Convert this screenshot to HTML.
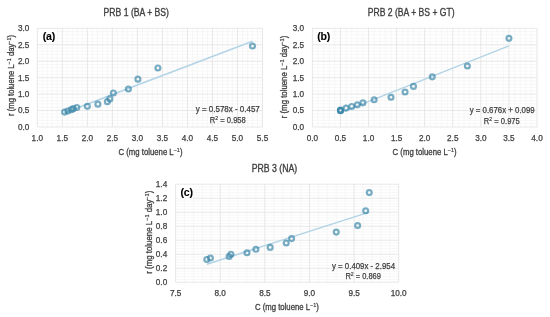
<!DOCTYPE html>
<html><head><meta charset="utf-8"><style>
html,body{margin:0;padding:0;background:#fff;}
body{width:550px;height:317px;overflow:hidden;}
svg{display:block;}
text{font-family:"Liberation Sans", sans-serif;fill:#404040;stroke:#404040;stroke-width:0.25px;}
.tk{font-size:8.2px;}
.ttl{font-size:10px;stroke-width:0.35px;}
.lab{font-size:10.6px;font-weight:bold;fill:#000;stroke:#000;stroke-width:0.1px;letter-spacing:-0.25px;}
.ax{font-size:8.5px;stroke-width:0.3px;}
.eq{font-size:8.8px;}
.sup{font-size:6px;stroke-width:0.2px;}
</style></head><body>
<svg width="550" height="317" viewBox="0 0 550 317">
<defs><filter id="bl" x="-5%" y="-5%" width="110%" height="110%"><feGaussianBlur stdDeviation="0.45"/></filter></defs>
<rect width="550" height="317" fill="#fff"/>
<g filter="url(#bl)">
<line x1="42.30" y1="28.3" x2="42.30" y2="127.0" stroke="#f5f5f5" stroke-width="0.8"/>
<line x1="47.31" y1="28.3" x2="47.31" y2="127.0" stroke="#f5f5f5" stroke-width="0.8"/>
<line x1="52.31" y1="28.3" x2="52.31" y2="127.0" stroke="#f5f5f5" stroke-width="0.8"/>
<line x1="57.32" y1="28.3" x2="57.32" y2="127.0" stroke="#f5f5f5" stroke-width="0.8"/>
<line x1="67.33" y1="28.3" x2="67.33" y2="127.0" stroke="#f5f5f5" stroke-width="0.8"/>
<line x1="72.33" y1="28.3" x2="72.33" y2="127.0" stroke="#f5f5f5" stroke-width="0.8"/>
<line x1="77.34" y1="28.3" x2="77.34" y2="127.0" stroke="#f5f5f5" stroke-width="0.8"/>
<line x1="82.34" y1="28.3" x2="82.34" y2="127.0" stroke="#f5f5f5" stroke-width="0.8"/>
<line x1="92.35" y1="28.3" x2="92.35" y2="127.0" stroke="#f5f5f5" stroke-width="0.8"/>
<line x1="97.35" y1="28.3" x2="97.35" y2="127.0" stroke="#f5f5f5" stroke-width="0.8"/>
<line x1="102.36" y1="28.3" x2="102.36" y2="127.0" stroke="#f5f5f5" stroke-width="0.8"/>
<line x1="107.36" y1="28.3" x2="107.36" y2="127.0" stroke="#f5f5f5" stroke-width="0.8"/>
<line x1="117.37" y1="28.3" x2="117.37" y2="127.0" stroke="#f5f5f5" stroke-width="0.8"/>
<line x1="122.38" y1="28.3" x2="122.38" y2="127.0" stroke="#f5f5f5" stroke-width="0.8"/>
<line x1="127.38" y1="28.3" x2="127.38" y2="127.0" stroke="#f5f5f5" stroke-width="0.8"/>
<line x1="132.38" y1="28.3" x2="132.38" y2="127.0" stroke="#f5f5f5" stroke-width="0.8"/>
<line x1="142.39" y1="28.3" x2="142.39" y2="127.0" stroke="#f5f5f5" stroke-width="0.8"/>
<line x1="147.40" y1="28.3" x2="147.40" y2="127.0" stroke="#f5f5f5" stroke-width="0.8"/>
<line x1="152.40" y1="28.3" x2="152.40" y2="127.0" stroke="#f5f5f5" stroke-width="0.8"/>
<line x1="157.41" y1="28.3" x2="157.41" y2="127.0" stroke="#f5f5f5" stroke-width="0.8"/>
<line x1="167.42" y1="28.3" x2="167.42" y2="127.0" stroke="#f5f5f5" stroke-width="0.8"/>
<line x1="172.42" y1="28.3" x2="172.42" y2="127.0" stroke="#f5f5f5" stroke-width="0.8"/>
<line x1="177.42" y1="28.3" x2="177.42" y2="127.0" stroke="#f5f5f5" stroke-width="0.8"/>
<line x1="182.43" y1="28.3" x2="182.43" y2="127.0" stroke="#f5f5f5" stroke-width="0.8"/>
<line x1="192.44" y1="28.3" x2="192.44" y2="127.0" stroke="#f5f5f5" stroke-width="0.8"/>
<line x1="197.44" y1="28.3" x2="197.44" y2="127.0" stroke="#f5f5f5" stroke-width="0.8"/>
<line x1="202.45" y1="28.3" x2="202.45" y2="127.0" stroke="#f5f5f5" stroke-width="0.8"/>
<line x1="207.45" y1="28.3" x2="207.45" y2="127.0" stroke="#f5f5f5" stroke-width="0.8"/>
<line x1="217.46" y1="28.3" x2="217.46" y2="127.0" stroke="#f5f5f5" stroke-width="0.8"/>
<line x1="222.46" y1="28.3" x2="222.46" y2="127.0" stroke="#f5f5f5" stroke-width="0.8"/>
<line x1="227.47" y1="28.3" x2="227.47" y2="127.0" stroke="#f5f5f5" stroke-width="0.8"/>
<line x1="232.47" y1="28.3" x2="232.47" y2="127.0" stroke="#f5f5f5" stroke-width="0.8"/>
<line x1="242.48" y1="28.3" x2="242.48" y2="127.0" stroke="#f5f5f5" stroke-width="0.8"/>
<line x1="247.49" y1="28.3" x2="247.49" y2="127.0" stroke="#f5f5f5" stroke-width="0.8"/>
<line x1="252.49" y1="28.3" x2="252.49" y2="127.0" stroke="#f5f5f5" stroke-width="0.8"/>
<line x1="257.50" y1="28.3" x2="257.50" y2="127.0" stroke="#f5f5f5" stroke-width="0.8"/>
<line x1="37.3" y1="31.59" x2="262.5" y2="31.59" stroke="#f5f5f5" stroke-width="0.8"/>
<line x1="37.3" y1="34.88" x2="262.5" y2="34.88" stroke="#f5f5f5" stroke-width="0.8"/>
<line x1="37.3" y1="38.17" x2="262.5" y2="38.17" stroke="#f5f5f5" stroke-width="0.8"/>
<line x1="37.3" y1="41.46" x2="262.5" y2="41.46" stroke="#f5f5f5" stroke-width="0.8"/>
<line x1="37.3" y1="48.04" x2="262.5" y2="48.04" stroke="#f5f5f5" stroke-width="0.8"/>
<line x1="37.3" y1="51.33" x2="262.5" y2="51.33" stroke="#f5f5f5" stroke-width="0.8"/>
<line x1="37.3" y1="54.62" x2="262.5" y2="54.62" stroke="#f5f5f5" stroke-width="0.8"/>
<line x1="37.3" y1="57.91" x2="262.5" y2="57.91" stroke="#f5f5f5" stroke-width="0.8"/>
<line x1="37.3" y1="64.49" x2="262.5" y2="64.49" stroke="#f5f5f5" stroke-width="0.8"/>
<line x1="37.3" y1="67.78" x2="262.5" y2="67.78" stroke="#f5f5f5" stroke-width="0.8"/>
<line x1="37.3" y1="71.07" x2="262.5" y2="71.07" stroke="#f5f5f5" stroke-width="0.8"/>
<line x1="37.3" y1="74.36" x2="262.5" y2="74.36" stroke="#f5f5f5" stroke-width="0.8"/>
<line x1="37.3" y1="80.94" x2="262.5" y2="80.94" stroke="#f5f5f5" stroke-width="0.8"/>
<line x1="37.3" y1="84.23" x2="262.5" y2="84.23" stroke="#f5f5f5" stroke-width="0.8"/>
<line x1="37.3" y1="87.52" x2="262.5" y2="87.52" stroke="#f5f5f5" stroke-width="0.8"/>
<line x1="37.3" y1="90.81" x2="262.5" y2="90.81" stroke="#f5f5f5" stroke-width="0.8"/>
<line x1="37.3" y1="97.39" x2="262.5" y2="97.39" stroke="#f5f5f5" stroke-width="0.8"/>
<line x1="37.3" y1="100.68" x2="262.5" y2="100.68" stroke="#f5f5f5" stroke-width="0.8"/>
<line x1="37.3" y1="103.97" x2="262.5" y2="103.97" stroke="#f5f5f5" stroke-width="0.8"/>
<line x1="37.3" y1="107.26" x2="262.5" y2="107.26" stroke="#f5f5f5" stroke-width="0.8"/>
<line x1="37.3" y1="113.84" x2="262.5" y2="113.84" stroke="#f5f5f5" stroke-width="0.8"/>
<line x1="37.3" y1="117.13" x2="262.5" y2="117.13" stroke="#f5f5f5" stroke-width="0.8"/>
<line x1="37.3" y1="120.42" x2="262.5" y2="120.42" stroke="#f5f5f5" stroke-width="0.8"/>
<line x1="37.3" y1="123.71" x2="262.5" y2="123.71" stroke="#f5f5f5" stroke-width="0.8"/>
<line x1="37.30" y1="28.3" x2="37.30" y2="127.0" stroke="#e4e4e4" stroke-width="0.9"/>
<line x1="62.32" y1="28.3" x2="62.32" y2="127.0" stroke="#e4e4e4" stroke-width="0.9"/>
<line x1="87.34" y1="28.3" x2="87.34" y2="127.0" stroke="#e4e4e4" stroke-width="0.9"/>
<line x1="112.37" y1="28.3" x2="112.37" y2="127.0" stroke="#e4e4e4" stroke-width="0.9"/>
<line x1="137.39" y1="28.3" x2="137.39" y2="127.0" stroke="#e4e4e4" stroke-width="0.9"/>
<line x1="162.41" y1="28.3" x2="162.41" y2="127.0" stroke="#e4e4e4" stroke-width="0.9"/>
<line x1="187.43" y1="28.3" x2="187.43" y2="127.0" stroke="#e4e4e4" stroke-width="0.9"/>
<line x1="212.46" y1="28.3" x2="212.46" y2="127.0" stroke="#e4e4e4" stroke-width="0.9"/>
<line x1="237.48" y1="28.3" x2="237.48" y2="127.0" stroke="#e4e4e4" stroke-width="0.9"/>
<line x1="262.50" y1="28.3" x2="262.50" y2="127.0" stroke="#e4e4e4" stroke-width="0.9"/>
<line x1="37.3" y1="28.30" x2="262.5" y2="28.30" stroke="#e4e4e4" stroke-width="0.9"/>
<line x1="37.3" y1="44.75" x2="262.5" y2="44.75" stroke="#e4e4e4" stroke-width="0.9"/>
<line x1="37.3" y1="61.20" x2="262.5" y2="61.20" stroke="#e4e4e4" stroke-width="0.9"/>
<line x1="37.3" y1="77.65" x2="262.5" y2="77.65" stroke="#e4e4e4" stroke-width="0.9"/>
<line x1="37.3" y1="94.10" x2="262.5" y2="94.10" stroke="#e4e4e4" stroke-width="0.9"/>
<line x1="37.3" y1="110.55" x2="262.5" y2="110.55" stroke="#e4e4e4" stroke-width="0.9"/>
<line x1="37.3" y1="127.00" x2="262.5" y2="127.00" stroke="#e4e4e4" stroke-width="0.9"/>
<text x="37.30" y="141.0" text-anchor="middle" class="tk">1.0</text>
<text x="62.32" y="141.0" text-anchor="middle" class="tk">1.5</text>
<text x="87.34" y="141.0" text-anchor="middle" class="tk">2.0</text>
<text x="112.37" y="141.0" text-anchor="middle" class="tk">2.5</text>
<text x="137.39" y="141.0" text-anchor="middle" class="tk">3.0</text>
<text x="162.41" y="141.0" text-anchor="middle" class="tk">3.5</text>
<text x="187.43" y="141.0" text-anchor="middle" class="tk">4.0</text>
<text x="212.46" y="141.0" text-anchor="middle" class="tk">4.5</text>
<text x="237.48" y="141.0" text-anchor="middle" class="tk">5.0</text>
<text x="262.50" y="141.0" text-anchor="middle" class="tk">5.5</text>
<text x="29.30" y="129.90" text-anchor="end" class="tk">0.0</text>
<text x="29.30" y="113.45" text-anchor="end" class="tk">0.5</text>
<text x="29.30" y="97.00" text-anchor="end" class="tk">1.0</text>
<text x="29.30" y="80.55" text-anchor="end" class="tk">1.5</text>
<text x="29.30" y="64.10" text-anchor="end" class="tk">2.0</text>
<text x="29.30" y="47.65" text-anchor="end" class="tk">2.5</text>
<text x="29.30" y="31.20" text-anchor="end" class="tk">3.0</text>
<line x1="64.57" y1="112.66" x2="252.49" y2="41.25" stroke="#b3d4e6" stroke-width="1.55"/>
<circle cx="64.57" cy="112.10" r="2.45" fill="none" stroke="#3a86a8" stroke-opacity="0.68" stroke-width="2.2"/>
<circle cx="67.83" cy="110.95" r="2.45" fill="none" stroke="#3a86a8" stroke-opacity="0.68" stroke-width="2.2"/>
<circle cx="71.33" cy="109.64" r="2.45" fill="none" stroke="#3a86a8" stroke-opacity="0.68" stroke-width="2.2"/>
<circle cx="73.33" cy="108.65" r="2.45" fill="none" stroke="#3a86a8" stroke-opacity="0.68" stroke-width="2.2"/>
<circle cx="76.84" cy="107.43" r="2.45" fill="none" stroke="#3a86a8" stroke-opacity="0.68" stroke-width="2.2"/>
<circle cx="87.34" cy="106.35" r="2.45" fill="none" stroke="#3a86a8" stroke-opacity="0.68" stroke-width="2.2"/>
<circle cx="97.85" cy="104.14" r="2.45" fill="none" stroke="#3a86a8" stroke-opacity="0.68" stroke-width="2.2"/>
<circle cx="107.36" cy="101.67" r="2.45" fill="none" stroke="#3a86a8" stroke-opacity="0.68" stroke-width="2.2"/>
<circle cx="109.86" cy="98.88" r="2.45" fill="none" stroke="#3a86a8" stroke-opacity="0.68" stroke-width="2.2"/>
<circle cx="113.37" cy="92.95" r="2.45" fill="none" stroke="#3a86a8" stroke-opacity="0.68" stroke-width="2.2"/>
<circle cx="128.38" cy="89.01" r="2.45" fill="none" stroke="#3a86a8" stroke-opacity="0.68" stroke-width="2.2"/>
<circle cx="137.89" cy="79.14" r="2.45" fill="none" stroke="#3a86a8" stroke-opacity="0.68" stroke-width="2.2"/>
<circle cx="157.91" cy="67.95" r="2.45" fill="none" stroke="#3a86a8" stroke-opacity="0.68" stroke-width="2.2"/>
<circle cx="252.49" cy="46.07" r="2.45" fill="none" stroke="#3a86a8" stroke-opacity="0.68" stroke-width="2.2"/>
<text x="136.3" y="15.9" text-anchor="middle" class="ttl" textLength="65.4" lengthAdjust="spacingAndGlyphs">PRB 1 (BA + BS)</text>
<rect x="38.5" y="30" width="18.50" height="13.80" fill="#fff"/>
<text x="42.8" y="40.0" class="lab">(a)</text>
<text x="150.5" y="154.6" text-anchor="middle" class="ax" textLength="64" lengthAdjust="spacingAndGlyphs">C (mg toluene L<tspan class="sup" dy="-3">−1</tspan><tspan dy="3">)</tspan></text>
<text transform="translate(14.3,75.5) rotate(-90)" text-anchor="middle" class="ax" textLength="81" lengthAdjust="spacingAndGlyphs">r (mg toluene L<tspan class="sup" dy="-3">−1</tspan><tspan dy="3"> day</tspan><tspan class="sup" dy="-3">−1</tspan><tspan dy="3">)</tspan></text>
<text x="259.8" y="112.2" text-anchor="end" class="eq" textLength="64" lengthAdjust="spacingAndGlyphs">y = 0.578x - 0.457</text>
<text x="227.8" y="123.1" text-anchor="middle" class="eq" textLength="36" lengthAdjust="spacingAndGlyphs">R<tspan class="sup" dy="-3">2</tspan><tspan dy="3"> = 0.958</tspan></text>
<line x1="318.01" y1="28.3" x2="318.01" y2="127.0" stroke="#f5f5f5" stroke-width="0.8"/>
<line x1="323.63" y1="28.3" x2="323.63" y2="127.0" stroke="#f5f5f5" stroke-width="0.8"/>
<line x1="329.25" y1="28.3" x2="329.25" y2="127.0" stroke="#f5f5f5" stroke-width="0.8"/>
<line x1="334.86" y1="28.3" x2="334.86" y2="127.0" stroke="#f5f5f5" stroke-width="0.8"/>
<line x1="346.09" y1="28.3" x2="346.09" y2="127.0" stroke="#f5f5f5" stroke-width="0.8"/>
<line x1="351.70" y1="28.3" x2="351.70" y2="127.0" stroke="#f5f5f5" stroke-width="0.8"/>
<line x1="357.32" y1="28.3" x2="357.32" y2="127.0" stroke="#f5f5f5" stroke-width="0.8"/>
<line x1="362.94" y1="28.3" x2="362.94" y2="127.0" stroke="#f5f5f5" stroke-width="0.8"/>
<line x1="374.16" y1="28.3" x2="374.16" y2="127.0" stroke="#f5f5f5" stroke-width="0.8"/>
<line x1="379.78" y1="28.3" x2="379.78" y2="127.0" stroke="#f5f5f5" stroke-width="0.8"/>
<line x1="385.39" y1="28.3" x2="385.39" y2="127.0" stroke="#f5f5f5" stroke-width="0.8"/>
<line x1="391.01" y1="28.3" x2="391.01" y2="127.0" stroke="#f5f5f5" stroke-width="0.8"/>
<line x1="402.24" y1="28.3" x2="402.24" y2="127.0" stroke="#f5f5f5" stroke-width="0.8"/>
<line x1="407.86" y1="28.3" x2="407.86" y2="127.0" stroke="#f5f5f5" stroke-width="0.8"/>
<line x1="413.47" y1="28.3" x2="413.47" y2="127.0" stroke="#f5f5f5" stroke-width="0.8"/>
<line x1="419.08" y1="28.3" x2="419.08" y2="127.0" stroke="#f5f5f5" stroke-width="0.8"/>
<line x1="430.31" y1="28.3" x2="430.31" y2="127.0" stroke="#f5f5f5" stroke-width="0.8"/>
<line x1="435.93" y1="28.3" x2="435.93" y2="127.0" stroke="#f5f5f5" stroke-width="0.8"/>
<line x1="441.54" y1="28.3" x2="441.54" y2="127.0" stroke="#f5f5f5" stroke-width="0.8"/>
<line x1="447.16" y1="28.3" x2="447.16" y2="127.0" stroke="#f5f5f5" stroke-width="0.8"/>
<line x1="458.39" y1="28.3" x2="458.39" y2="127.0" stroke="#f5f5f5" stroke-width="0.8"/>
<line x1="464.00" y1="28.3" x2="464.00" y2="127.0" stroke="#f5f5f5" stroke-width="0.8"/>
<line x1="469.62" y1="28.3" x2="469.62" y2="127.0" stroke="#f5f5f5" stroke-width="0.8"/>
<line x1="475.24" y1="28.3" x2="475.24" y2="127.0" stroke="#f5f5f5" stroke-width="0.8"/>
<line x1="486.46" y1="28.3" x2="486.46" y2="127.0" stroke="#f5f5f5" stroke-width="0.8"/>
<line x1="492.08" y1="28.3" x2="492.08" y2="127.0" stroke="#f5f5f5" stroke-width="0.8"/>
<line x1="497.69" y1="28.3" x2="497.69" y2="127.0" stroke="#f5f5f5" stroke-width="0.8"/>
<line x1="503.31" y1="28.3" x2="503.31" y2="127.0" stroke="#f5f5f5" stroke-width="0.8"/>
<line x1="514.54" y1="28.3" x2="514.54" y2="127.0" stroke="#f5f5f5" stroke-width="0.8"/>
<line x1="520.15" y1="28.3" x2="520.15" y2="127.0" stroke="#f5f5f5" stroke-width="0.8"/>
<line x1="525.77" y1="28.3" x2="525.77" y2="127.0" stroke="#f5f5f5" stroke-width="0.8"/>
<line x1="531.38" y1="28.3" x2="531.38" y2="127.0" stroke="#f5f5f5" stroke-width="0.8"/>
<line x1="312.4" y1="31.59" x2="537.0" y2="31.59" stroke="#f5f5f5" stroke-width="0.8"/>
<line x1="312.4" y1="34.88" x2="537.0" y2="34.88" stroke="#f5f5f5" stroke-width="0.8"/>
<line x1="312.4" y1="38.17" x2="537.0" y2="38.17" stroke="#f5f5f5" stroke-width="0.8"/>
<line x1="312.4" y1="41.46" x2="537.0" y2="41.46" stroke="#f5f5f5" stroke-width="0.8"/>
<line x1="312.4" y1="48.04" x2="537.0" y2="48.04" stroke="#f5f5f5" stroke-width="0.8"/>
<line x1="312.4" y1="51.33" x2="537.0" y2="51.33" stroke="#f5f5f5" stroke-width="0.8"/>
<line x1="312.4" y1="54.62" x2="537.0" y2="54.62" stroke="#f5f5f5" stroke-width="0.8"/>
<line x1="312.4" y1="57.91" x2="537.0" y2="57.91" stroke="#f5f5f5" stroke-width="0.8"/>
<line x1="312.4" y1="64.49" x2="537.0" y2="64.49" stroke="#f5f5f5" stroke-width="0.8"/>
<line x1="312.4" y1="67.78" x2="537.0" y2="67.78" stroke="#f5f5f5" stroke-width="0.8"/>
<line x1="312.4" y1="71.07" x2="537.0" y2="71.07" stroke="#f5f5f5" stroke-width="0.8"/>
<line x1="312.4" y1="74.36" x2="537.0" y2="74.36" stroke="#f5f5f5" stroke-width="0.8"/>
<line x1="312.4" y1="80.94" x2="537.0" y2="80.94" stroke="#f5f5f5" stroke-width="0.8"/>
<line x1="312.4" y1="84.23" x2="537.0" y2="84.23" stroke="#f5f5f5" stroke-width="0.8"/>
<line x1="312.4" y1="87.52" x2="537.0" y2="87.52" stroke="#f5f5f5" stroke-width="0.8"/>
<line x1="312.4" y1="90.81" x2="537.0" y2="90.81" stroke="#f5f5f5" stroke-width="0.8"/>
<line x1="312.4" y1="97.39" x2="537.0" y2="97.39" stroke="#f5f5f5" stroke-width="0.8"/>
<line x1="312.4" y1="100.68" x2="537.0" y2="100.68" stroke="#f5f5f5" stroke-width="0.8"/>
<line x1="312.4" y1="103.97" x2="537.0" y2="103.97" stroke="#f5f5f5" stroke-width="0.8"/>
<line x1="312.4" y1="107.26" x2="537.0" y2="107.26" stroke="#f5f5f5" stroke-width="0.8"/>
<line x1="312.4" y1="113.84" x2="537.0" y2="113.84" stroke="#f5f5f5" stroke-width="0.8"/>
<line x1="312.4" y1="117.13" x2="537.0" y2="117.13" stroke="#f5f5f5" stroke-width="0.8"/>
<line x1="312.4" y1="120.42" x2="537.0" y2="120.42" stroke="#f5f5f5" stroke-width="0.8"/>
<line x1="312.4" y1="123.71" x2="537.0" y2="123.71" stroke="#f5f5f5" stroke-width="0.8"/>
<line x1="312.40" y1="28.3" x2="312.40" y2="127.0" stroke="#e4e4e4" stroke-width="0.9"/>
<line x1="340.47" y1="28.3" x2="340.47" y2="127.0" stroke="#e4e4e4" stroke-width="0.9"/>
<line x1="368.55" y1="28.3" x2="368.55" y2="127.0" stroke="#e4e4e4" stroke-width="0.9"/>
<line x1="396.62" y1="28.3" x2="396.62" y2="127.0" stroke="#e4e4e4" stroke-width="0.9"/>
<line x1="424.70" y1="28.3" x2="424.70" y2="127.0" stroke="#e4e4e4" stroke-width="0.9"/>
<line x1="452.77" y1="28.3" x2="452.77" y2="127.0" stroke="#e4e4e4" stroke-width="0.9"/>
<line x1="480.85" y1="28.3" x2="480.85" y2="127.0" stroke="#e4e4e4" stroke-width="0.9"/>
<line x1="508.93" y1="28.3" x2="508.93" y2="127.0" stroke="#e4e4e4" stroke-width="0.9"/>
<line x1="537.00" y1="28.3" x2="537.00" y2="127.0" stroke="#e4e4e4" stroke-width="0.9"/>
<line x1="312.4" y1="28.30" x2="537.0" y2="28.30" stroke="#e4e4e4" stroke-width="0.9"/>
<line x1="312.4" y1="44.75" x2="537.0" y2="44.75" stroke="#e4e4e4" stroke-width="0.9"/>
<line x1="312.4" y1="61.20" x2="537.0" y2="61.20" stroke="#e4e4e4" stroke-width="0.9"/>
<line x1="312.4" y1="77.65" x2="537.0" y2="77.65" stroke="#e4e4e4" stroke-width="0.9"/>
<line x1="312.4" y1="94.10" x2="537.0" y2="94.10" stroke="#e4e4e4" stroke-width="0.9"/>
<line x1="312.4" y1="110.55" x2="537.0" y2="110.55" stroke="#e4e4e4" stroke-width="0.9"/>
<line x1="312.4" y1="127.00" x2="537.0" y2="127.00" stroke="#e4e4e4" stroke-width="0.9"/>
<text x="312.40" y="141.0" text-anchor="middle" class="tk">0.0</text>
<text x="340.47" y="141.0" text-anchor="middle" class="tk">0.5</text>
<text x="368.55" y="141.0" text-anchor="middle" class="tk">1.0</text>
<text x="396.62" y="141.0" text-anchor="middle" class="tk">1.5</text>
<text x="424.70" y="141.0" text-anchor="middle" class="tk">2.0</text>
<text x="452.77" y="141.0" text-anchor="middle" class="tk">2.5</text>
<text x="480.85" y="141.0" text-anchor="middle" class="tk">3.0</text>
<text x="508.93" y="141.0" text-anchor="middle" class="tk">3.5</text>
<text x="537.00" y="141.0" text-anchor="middle" class="tk">4.0</text>
<text x="304.10" y="129.90" text-anchor="end" class="tk">0.0</text>
<text x="304.10" y="113.45" text-anchor="end" class="tk">0.5</text>
<text x="304.10" y="97.00" text-anchor="end" class="tk">1.0</text>
<text x="304.10" y="80.55" text-anchor="end" class="tk">1.5</text>
<text x="304.10" y="64.10" text-anchor="end" class="tk">2.0</text>
<text x="304.10" y="47.65" text-anchor="end" class="tk">2.5</text>
<text x="304.10" y="31.20" text-anchor="end" class="tk">3.0</text>
<line x1="340.47" y1="112.62" x2="508.93" y2="45.90" stroke="#b3d4e6" stroke-width="1.55"/>
<circle cx="340.47" cy="110.75" r="2.45" fill="none" stroke="#3a86a8" stroke-opacity="0.68" stroke-width="2.2"/>
<circle cx="340.47" cy="110.09" r="2.45" fill="none" stroke="#3a86a8" stroke-opacity="0.68" stroke-width="2.2"/>
<circle cx="340.47" cy="110.42" r="2.45" fill="none" stroke="#3a86a8" stroke-opacity="0.68" stroke-width="2.2"/>
<circle cx="346.09" cy="108.12" r="2.45" fill="none" stroke="#3a86a8" stroke-opacity="0.68" stroke-width="2.2"/>
<circle cx="351.70" cy="106.47" r="2.45" fill="none" stroke="#3a86a8" stroke-opacity="0.68" stroke-width="2.2"/>
<circle cx="357.32" cy="104.83" r="2.45" fill="none" stroke="#3a86a8" stroke-opacity="0.68" stroke-width="2.2"/>
<circle cx="362.94" cy="102.85" r="2.45" fill="none" stroke="#3a86a8" stroke-opacity="0.68" stroke-width="2.2"/>
<circle cx="374.16" cy="99.73" r="2.45" fill="none" stroke="#3a86a8" stroke-opacity="0.68" stroke-width="2.2"/>
<circle cx="391.01" cy="97.26" r="2.45" fill="none" stroke="#3a86a8" stroke-opacity="0.68" stroke-width="2.2"/>
<circle cx="405.05" cy="92.00" r="2.45" fill="none" stroke="#3a86a8" stroke-opacity="0.68" stroke-width="2.2"/>
<circle cx="413.47" cy="86.40" r="2.45" fill="none" stroke="#3a86a8" stroke-opacity="0.68" stroke-width="2.2"/>
<circle cx="432.28" cy="76.86" r="2.45" fill="none" stroke="#3a86a8" stroke-opacity="0.68" stroke-width="2.2"/>
<circle cx="467.37" cy="66.01" r="2.45" fill="none" stroke="#3a86a8" stroke-opacity="0.68" stroke-width="2.2"/>
<circle cx="508.93" cy="38.37" r="2.45" fill="none" stroke="#3a86a8" stroke-opacity="0.68" stroke-width="2.2"/>
<text x="411.2" y="15.9" text-anchor="middle" class="ttl" textLength="86.7" lengthAdjust="spacingAndGlyphs">PRB 2 (BA + BS + GT)</text>
<rect x="313.5" y="29.8" width="18.30" height="13.60" fill="#fff"/>
<text x="317.2" y="40.0" class="lab">(b)</text>
<text x="424.6" y="154.6" text-anchor="middle" class="ax" textLength="64" lengthAdjust="spacingAndGlyphs">C (mg toluene L<tspan class="sup" dy="-3">−1</tspan><tspan dy="3">)</tspan></text>
<text transform="translate(287.1,77) rotate(-90)" text-anchor="middle" class="ax" textLength="82.5" lengthAdjust="spacingAndGlyphs">r (mg toluene L<tspan class="sup" dy="-3">−1</tspan><tspan dy="3"> day</tspan><tspan class="sup" dy="-3">−1</tspan><tspan dy="3">)</tspan></text>
<text x="534.7" y="112.9" text-anchor="end" class="eq" textLength="65" lengthAdjust="spacingAndGlyphs">y = 0.676x + 0.099</text>
<text x="501.8" y="123.7" text-anchor="middle" class="eq" textLength="36" lengthAdjust="spacingAndGlyphs">R<tspan class="sup" dy="-3">2</tspan><tspan dy="3"> = 0.975</tspan></text>
<line x1="184.52" y1="184.2" x2="184.52" y2="282.2" stroke="#f5f5f5" stroke-width="0.8"/>
<line x1="193.45" y1="184.2" x2="193.45" y2="282.2" stroke="#f5f5f5" stroke-width="0.8"/>
<line x1="202.37" y1="184.2" x2="202.37" y2="282.2" stroke="#f5f5f5" stroke-width="0.8"/>
<line x1="211.30" y1="184.2" x2="211.30" y2="282.2" stroke="#f5f5f5" stroke-width="0.8"/>
<line x1="229.14" y1="184.2" x2="229.14" y2="282.2" stroke="#f5f5f5" stroke-width="0.8"/>
<line x1="238.07" y1="184.2" x2="238.07" y2="282.2" stroke="#f5f5f5" stroke-width="0.8"/>
<line x1="246.99" y1="184.2" x2="246.99" y2="282.2" stroke="#f5f5f5" stroke-width="0.8"/>
<line x1="255.92" y1="184.2" x2="255.92" y2="282.2" stroke="#f5f5f5" stroke-width="0.8"/>
<line x1="273.76" y1="184.2" x2="273.76" y2="282.2" stroke="#f5f5f5" stroke-width="0.8"/>
<line x1="282.69" y1="184.2" x2="282.69" y2="282.2" stroke="#f5f5f5" stroke-width="0.8"/>
<line x1="291.61" y1="184.2" x2="291.61" y2="282.2" stroke="#f5f5f5" stroke-width="0.8"/>
<line x1="300.54" y1="184.2" x2="300.54" y2="282.2" stroke="#f5f5f5" stroke-width="0.8"/>
<line x1="318.38" y1="184.2" x2="318.38" y2="282.2" stroke="#f5f5f5" stroke-width="0.8"/>
<line x1="327.31" y1="184.2" x2="327.31" y2="282.2" stroke="#f5f5f5" stroke-width="0.8"/>
<line x1="336.23" y1="184.2" x2="336.23" y2="282.2" stroke="#f5f5f5" stroke-width="0.8"/>
<line x1="345.16" y1="184.2" x2="345.16" y2="282.2" stroke="#f5f5f5" stroke-width="0.8"/>
<line x1="363.00" y1="184.2" x2="363.00" y2="282.2" stroke="#f5f5f5" stroke-width="0.8"/>
<line x1="371.93" y1="184.2" x2="371.93" y2="282.2" stroke="#f5f5f5" stroke-width="0.8"/>
<line x1="380.85" y1="184.2" x2="380.85" y2="282.2" stroke="#f5f5f5" stroke-width="0.8"/>
<line x1="389.78" y1="184.2" x2="389.78" y2="282.2" stroke="#f5f5f5" stroke-width="0.8"/>
<line x1="175.6" y1="187.00" x2="398.7" y2="187.00" stroke="#f5f5f5" stroke-width="0.8"/>
<line x1="175.6" y1="189.80" x2="398.7" y2="189.80" stroke="#f5f5f5" stroke-width="0.8"/>
<line x1="175.6" y1="192.60" x2="398.7" y2="192.60" stroke="#f5f5f5" stroke-width="0.8"/>
<line x1="175.6" y1="195.40" x2="398.7" y2="195.40" stroke="#f5f5f5" stroke-width="0.8"/>
<line x1="175.6" y1="201.00" x2="398.7" y2="201.00" stroke="#f5f5f5" stroke-width="0.8"/>
<line x1="175.6" y1="203.80" x2="398.7" y2="203.80" stroke="#f5f5f5" stroke-width="0.8"/>
<line x1="175.6" y1="206.60" x2="398.7" y2="206.60" stroke="#f5f5f5" stroke-width="0.8"/>
<line x1="175.6" y1="209.40" x2="398.7" y2="209.40" stroke="#f5f5f5" stroke-width="0.8"/>
<line x1="175.6" y1="215.00" x2="398.7" y2="215.00" stroke="#f5f5f5" stroke-width="0.8"/>
<line x1="175.6" y1="217.80" x2="398.7" y2="217.80" stroke="#f5f5f5" stroke-width="0.8"/>
<line x1="175.6" y1="220.60" x2="398.7" y2="220.60" stroke="#f5f5f5" stroke-width="0.8"/>
<line x1="175.6" y1="223.40" x2="398.7" y2="223.40" stroke="#f5f5f5" stroke-width="0.8"/>
<line x1="175.6" y1="229.00" x2="398.7" y2="229.00" stroke="#f5f5f5" stroke-width="0.8"/>
<line x1="175.6" y1="231.80" x2="398.7" y2="231.80" stroke="#f5f5f5" stroke-width="0.8"/>
<line x1="175.6" y1="234.60" x2="398.7" y2="234.60" stroke="#f5f5f5" stroke-width="0.8"/>
<line x1="175.6" y1="237.40" x2="398.7" y2="237.40" stroke="#f5f5f5" stroke-width="0.8"/>
<line x1="175.6" y1="243.00" x2="398.7" y2="243.00" stroke="#f5f5f5" stroke-width="0.8"/>
<line x1="175.6" y1="245.80" x2="398.7" y2="245.80" stroke="#f5f5f5" stroke-width="0.8"/>
<line x1="175.6" y1="248.60" x2="398.7" y2="248.60" stroke="#f5f5f5" stroke-width="0.8"/>
<line x1="175.6" y1="251.40" x2="398.7" y2="251.40" stroke="#f5f5f5" stroke-width="0.8"/>
<line x1="175.6" y1="257.00" x2="398.7" y2="257.00" stroke="#f5f5f5" stroke-width="0.8"/>
<line x1="175.6" y1="259.80" x2="398.7" y2="259.80" stroke="#f5f5f5" stroke-width="0.8"/>
<line x1="175.6" y1="262.60" x2="398.7" y2="262.60" stroke="#f5f5f5" stroke-width="0.8"/>
<line x1="175.6" y1="265.40" x2="398.7" y2="265.40" stroke="#f5f5f5" stroke-width="0.8"/>
<line x1="175.6" y1="271.00" x2="398.7" y2="271.00" stroke="#f5f5f5" stroke-width="0.8"/>
<line x1="175.6" y1="273.80" x2="398.7" y2="273.80" stroke="#f5f5f5" stroke-width="0.8"/>
<line x1="175.6" y1="276.60" x2="398.7" y2="276.60" stroke="#f5f5f5" stroke-width="0.8"/>
<line x1="175.6" y1="279.40" x2="398.7" y2="279.40" stroke="#f5f5f5" stroke-width="0.8"/>
<line x1="175.60" y1="184.2" x2="175.60" y2="282.2" stroke="#e4e4e4" stroke-width="0.9"/>
<line x1="220.22" y1="184.2" x2="220.22" y2="282.2" stroke="#e4e4e4" stroke-width="0.9"/>
<line x1="264.84" y1="184.2" x2="264.84" y2="282.2" stroke="#e4e4e4" stroke-width="0.9"/>
<line x1="309.46" y1="184.2" x2="309.46" y2="282.2" stroke="#e4e4e4" stroke-width="0.9"/>
<line x1="354.08" y1="184.2" x2="354.08" y2="282.2" stroke="#e4e4e4" stroke-width="0.9"/>
<line x1="398.70" y1="184.2" x2="398.70" y2="282.2" stroke="#e4e4e4" stroke-width="0.9"/>
<line x1="175.6" y1="184.20" x2="398.7" y2="184.20" stroke="#e4e4e4" stroke-width="0.9"/>
<line x1="175.6" y1="198.20" x2="398.7" y2="198.20" stroke="#e4e4e4" stroke-width="0.9"/>
<line x1="175.6" y1="212.20" x2="398.7" y2="212.20" stroke="#e4e4e4" stroke-width="0.9"/>
<line x1="175.6" y1="226.20" x2="398.7" y2="226.20" stroke="#e4e4e4" stroke-width="0.9"/>
<line x1="175.6" y1="240.20" x2="398.7" y2="240.20" stroke="#e4e4e4" stroke-width="0.9"/>
<line x1="175.6" y1="254.20" x2="398.7" y2="254.20" stroke="#e4e4e4" stroke-width="0.9"/>
<line x1="175.6" y1="268.20" x2="398.7" y2="268.20" stroke="#e4e4e4" stroke-width="0.9"/>
<line x1="175.6" y1="282.20" x2="398.7" y2="282.20" stroke="#e4e4e4" stroke-width="0.9"/>
<text x="175.60" y="296.0" text-anchor="middle" class="tk">7.5</text>
<text x="220.22" y="296.0" text-anchor="middle" class="tk">8.0</text>
<text x="264.84" y="296.0" text-anchor="middle" class="tk">8.5</text>
<text x="309.46" y="296.0" text-anchor="middle" class="tk">9.0</text>
<text x="354.08" y="296.0" text-anchor="middle" class="tk">9.5</text>
<text x="398.70" y="296.0" text-anchor="middle" class="tk">10.0</text>
<text x="167.20" y="285.10" text-anchor="end" class="tk">0.0</text>
<text x="167.20" y="271.10" text-anchor="end" class="tk">0.2</text>
<text x="167.20" y="257.10" text-anchor="end" class="tk">0.4</text>
<text x="167.20" y="243.10" text-anchor="end" class="tk">0.6</text>
<text x="167.20" y="229.10" text-anchor="end" class="tk">0.8</text>
<text x="167.20" y="215.10" text-anchor="end" class="tk">1.0</text>
<text x="167.20" y="201.10" text-anchor="end" class="tk">1.2</text>
<text x="167.20" y="187.10" text-anchor="end" class="tk">1.4</text>
<line x1="206.83" y1="264.23" x2="369.25" y2="212.13" stroke="#b3d4e6" stroke-width="1.55"/>
<circle cx="206.83" cy="259.45" r="2.45" fill="none" stroke="#3a86a8" stroke-opacity="0.68" stroke-width="2.2"/>
<circle cx="210.40" cy="258.05" r="2.45" fill="none" stroke="#3a86a8" stroke-opacity="0.68" stroke-width="2.2"/>
<circle cx="229.14" cy="256.51" r="2.45" fill="none" stroke="#3a86a8" stroke-opacity="0.68" stroke-width="2.2"/>
<circle cx="230.93" cy="254.20" r="2.45" fill="none" stroke="#3a86a8" stroke-opacity="0.68" stroke-width="2.2"/>
<circle cx="246.99" cy="252.80" r="2.45" fill="none" stroke="#3a86a8" stroke-opacity="0.68" stroke-width="2.2"/>
<circle cx="255.92" cy="249.30" r="2.45" fill="none" stroke="#3a86a8" stroke-opacity="0.68" stroke-width="2.2"/>
<circle cx="270.19" cy="247.41" r="2.45" fill="none" stroke="#3a86a8" stroke-opacity="0.68" stroke-width="2.2"/>
<circle cx="286.26" cy="243.00" r="2.45" fill="none" stroke="#3a86a8" stroke-opacity="0.68" stroke-width="2.2"/>
<circle cx="291.61" cy="238.59" r="2.45" fill="none" stroke="#3a86a8" stroke-opacity="0.68" stroke-width="2.2"/>
<circle cx="336.23" cy="232.08" r="2.45" fill="none" stroke="#3a86a8" stroke-opacity="0.68" stroke-width="2.2"/>
<circle cx="357.65" cy="225.50" r="2.45" fill="none" stroke="#3a86a8" stroke-opacity="0.68" stroke-width="2.2"/>
<circle cx="365.68" cy="210.80" r="2.45" fill="none" stroke="#3a86a8" stroke-opacity="0.68" stroke-width="2.2"/>
<circle cx="369.25" cy="192.60" r="2.45" fill="none" stroke="#3a86a8" stroke-opacity="0.68" stroke-width="2.2"/>
<text x="274.5" y="172.2" text-anchor="middle" class="ttl" textLength="45.5" lengthAdjust="spacingAndGlyphs">PRB 3 (NA)</text>
<rect x="176.6" y="185.3" width="16.90" height="13.30" fill="#fff"/>
<text x="180.6" y="196.0" class="lab">(c)</text>
<text x="286.9" y="309.9" text-anchor="middle" class="ax" textLength="64" lengthAdjust="spacingAndGlyphs">C (mg toluene L<tspan class="sup" dy="-3">−1</tspan><tspan dy="3">)</tspan></text>
<text transform="translate(151.7,232.2) rotate(-90)" text-anchor="middle" class="ax" textLength="83" lengthAdjust="spacingAndGlyphs">r (mg toluene L<tspan class="sup" dy="-3">−1</tspan><tspan dy="3"> day</tspan><tspan class="sup" dy="-3">−1</tspan><tspan dy="3">)</tspan></text>
<text x="395.0" y="268.9" text-anchor="end" class="eq" textLength="63" lengthAdjust="spacingAndGlyphs">y = 0.409x - 2.954</text>
<text x="363.2" y="279.1" text-anchor="middle" class="eq" textLength="35.5" lengthAdjust="spacingAndGlyphs">R<tspan class="sup" dy="-3">2</tspan><tspan dy="3"> = 0.869</tspan></text>
</g>
</svg></body></html>
